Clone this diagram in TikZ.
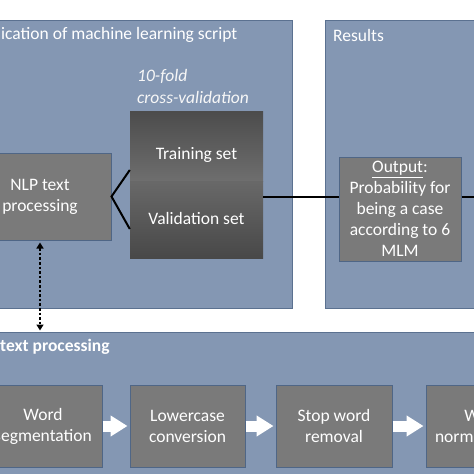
\documentclass[tikz,border=0pt]{standalone}
\usepackage{fontspec}
\setmainfont{Carlito}
\usetikzlibrary{arrows.meta,calc}
\definecolor{panelfill}{HTML}{8497B3}
\definecolor{paneldraw}{HTML}{5B7190}
\definecolor{boxfill}{HTML}{7A7A7A}
\definecolor{boxdraw}{HTML}{4F6686}
\definecolor{shadetop}{HTML}{4C4C4C}
\definecolor{shademid}{HTML}{6E6E6E}
\tikzset{
  panel/.style={draw=paneldraw, fill=panelfill, line width=1pt, minimum width=#1, inner sep=0pt},
  graybox/.style={draw=boxdraw, fill=boxfill, line width=1pt, inner sep=0pt, text=white, align=center,
    font=\fontsize{17.5}{21}\selectfont},
  lbl/.style={text=white, inner sep=0pt, font=\fontsize{17.5}{21}\selectfont},
  conn/.style={line width=2pt, black},
  whitearrow/.style={line width=11pt, white, -{Triangle[length=17pt,width=20pt]}, shorten >=2pt},
}
\begin{document}
\begin{tikzpicture}[x=1pt,y=-1pt]
\useasboundingbox (0,0) rectangle (474,474);
\clip (0,0) rectangle (474,474);
% panels
\node[panel=312pt, minimum height=288pt] (panA) at (136,164) {};
\node[panel=195pt, minimum height=288pt] (panB) at (422.5,164) {};
\node[panel=540pt, minimum height=188pt] (panC) at (250,426) {};
% titles
\node[lbl, anchor=west] (titA) at (1,35) {ication of machine learning script};
\node[lbl, anchor=west] (titB) at (333,35) {Results};
\node[lbl, anchor=west, font=\fontsize{17.5}{21}\selectfont\bfseries] (titC) at (0,347) {text processing};
\node[lbl, anchor=west, align=left, font=\fontsize{17.5}{22}\selectfont\itshape, text=white!94!gray] (cv) at (137,86) {10-fold\\cross-validation};
% NLP box
\node[graybox, minimum width=142pt, minimum height=87pt] (nlp) at (40,196.5) {NLP text\\processing};
% training / validation box (two shaded halves)
\shade[top color=shadetop, bottom color=shademid] (130,111) rectangle (263,181);
\shade[top color=shademid!95!black, bottom color=shadetop!95!black] (263,181) rectangle (130,258);
\node[minimum width=133pt, minimum height=147pt, inner sep=0pt] (train) at (196.5,184.5) {};
\node[lbl] (trtxt) at (196.5,155) {Training set};
\node[lbl] (vatxt) at (196.5,218) {Validation set};
% output box
\node[graybox, minimum width=122pt, minimum height=104pt] (out) at (400,209) {\underline{Output}:\\Probability for\\being a case\\according to 6\\MLM};
% connectors
\coordinate (t1) at (train.west |- 0,170);
\coordinate (t2) at (train.west |- 0,229);
\draw[conn] (t1) -- (nlp.east) -- (t2);
\draw[conn] (train.east |- nlp.east) -- (out.west |- nlp.east);
\coordinate (rend) at (480,196.5);
\draw[conn] (out.east |- nlp.east) -- (rend);
% dotted double arrow
\draw[line width=2.6pt, dotted, {Triangle[length=6pt,width=7pt]}-{Triangle[length=6pt,width=7pt]}, shorten <=2pt, shorten >=1pt]
  (nlp.south) -- (nlp.south |- panC.north);
% bottom boxes
\node[graybox, minimum width=118pt, minimum height=82pt] (b1) at (43,426) {Word\\segmentation};
\node[graybox, minimum width=115pt, minimum height=82pt] (b2) at (187.5,426) {Lowercase\\conversion};
\node[graybox, minimum width=116pt, minimum height=82pt] (b3) at (334,426) {Stop word\\removal};
\node[graybox, minimum width=116pt, minimum height=82pt] (b4) at (484,426) {Word\\normalization};
\draw[whitearrow] (b1.east) -- (b2.west);
\draw[whitearrow] (b2.east) -- (b3.west);
\draw[whitearrow] (b3.east) -- (b4.west);
\end{tikzpicture}
\end{document}
